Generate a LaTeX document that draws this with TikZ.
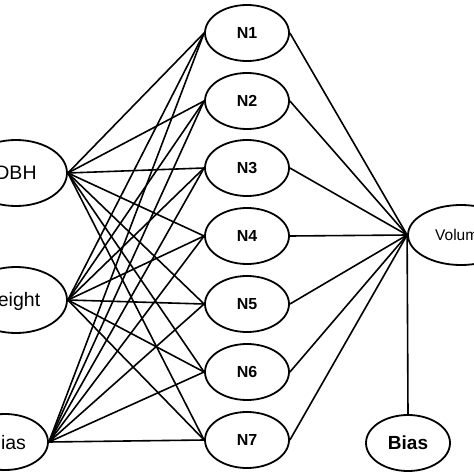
\documentclass[tikz,border=0pt]{standalone}
\usepackage{fontspec}
\setmainfont{Liberation Sans}
\usetikzlibrary{shapes.geometric}
\begin{document}
\begin{tikzpicture}[x=1pt,y=-1pt,
  neuron/.style={draw,ellipse,line width=1.8pt,inner sep=0pt,minimum width=84pt,minimum height=56pt,font=\fontsize{16}{18}\selectfont\bfseries},
  inp/.style={draw,ellipse,line width=1.8pt,inner sep=0pt,minimum width=102pt,minimum height=66pt,font=\fontsize{19.5}{22}\selectfont},
  lbl/.style={inner sep=0pt,font=\fontsize{19.5}{22}\selectfont},
  link/.style={line width=1.6pt}]
\useasboundingbox (0,0) rectangle (474,474);
\node[inp] (dbh) at (16,173) {DBH};
\node[inp] (hgt) at (16,300) {};
\node[lbl] (hgtlbl) at (12,301) {Height};
\node[inp,minimum width=86pt,minimum height=56pt] (bin) at (5,442) {};
\node[lbl] (binlbl) at (7,443) {Bias};
\foreach \i/\y in {1/33,2/101,3/168,4/236,5/304,6/372,7/440}{
  \node[neuron] (n\i) at (247,\y) {N\i};
}
\node[inp,minimum width=106pt,minimum height=60pt,font=\fontsize{15.5}{17}\selectfont] (vol) at (461,235) {Volume};
\node[neuron,font=\fontsize{19}{21}\selectfont\bfseries] (bout) at (408,443) {Bias};
\foreach \s in {dbh,hgt,bin}{
  \foreach \i in {1,...,7}{
    \draw[link] (\s.east) -- (n\i.west);
  }
}
\foreach \i in {1,...,7}{
  \draw[link] (n\i.east) -- (vol.west);
}
\draw[link] (vol.west) -- (bout.north);
\end{tikzpicture}
\end{document}
